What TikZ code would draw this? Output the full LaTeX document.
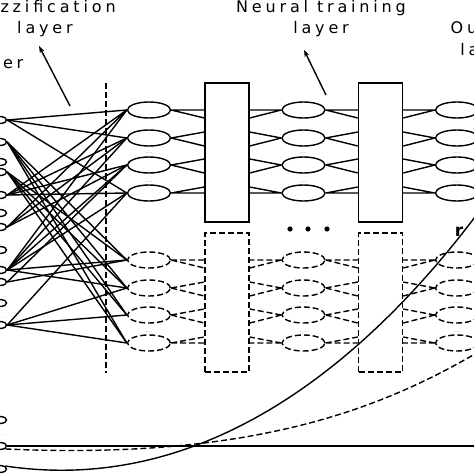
\documentclass[tikz,border=0pt]{standalone}
\usepackage{fontspec}
\usetikzlibrary{shapes.geometric,arrows.meta}
\newfontfamily\labfont[LetterSpace=24]{DejaVu Sans}
\tikzset{
  fz/.style={ellipse,draw,minimum width=43pt,minimum height=16pt,inner sep=0pt},
  inp/.style={ellipse,draw,minimum width=11pt,minimum height=7pt,inner sep=0pt},
  blk/.style={rectangle,draw,minimum width=44pt,minimum height=139pt,inner sep=0pt},
  dashline/.style={dash pattern=on 6pt off 3pt},
  lab/.style={font=\labfont\fontsize{16}{18}\selectfont,inner sep=0pt,anchor=base},
  dots/.style={font=\fontsize{8}{8}\selectfont,text=black!55,inner sep=0pt},
  pointer/.style={-{Stealth[length=7pt,width=5pt]}},
}
\begin{document}
\begin{tikzpicture}[x=1pt,y=-1pt,line width=1.4pt]
    \useasboundingbox (0,0) rectangle (474,474);
    \clip (0,0) rectangle (474,474);
    \node[lab] (fuzzt) at (45,12) {Fuzzification};
    \node[lab] (fuzzl) at (45,33) {layer};
    \node[lab] (neurt) at (321,12.5) {Neural training};
    \node[lab] (neurl) at (321,33.5) {layer};
    \node[lab] (outt) at (488,33) {Output};
    \node[lab] (outl) at (488,55) {layer};
    \node[lab,anchor=base east] (inpt) at (24,68) {Input layer};
    \node[font=\labfont\bfseries\fontsize{17}{17}\selectfont,inner sep=0pt,anchor=base] (rlab) at (459,236) {r};
    \coordinate (fa) at (70,106);
    \coordinate (fb) at (39,46);
    \coordinate (na) at (326,95);
    \coordinate (nb) at (304,50);
    \draw[pointer] (fa) -- (fb);
    \draw[pointer] (na) -- (nb);
    \draw[dashline] (106,83) -- (106,373);
    \node[blk] (bs1) at (227,152.5) {};
    \node[blk] (bs2) at (380.5,152.5) {};
    \node[blk,dashline] (bd1) at (227,302.5) {};
    \node[blk,dashline] (bd2) at (380.5,302.5) {};
    \foreach \g/\st/\dy in {s/solid/0,d/dashline/150} {
        \foreach \i/\y/\up/\dn in {1/110/0pt/8pt,2/138/6pt/8pt,3/165/6pt/8pt,4/193/6pt/0pt} {
            \node[fz,\st] (f\g\i) at (149,\y+\dy) {};
            \node[fz,\st] (n\g\i) at (303.5,\y+\dy) {};
            \node[fz,\st] (o\g\i) at (457,\y+\dy) {};
            \foreach \sa/\sb/\sc in {f/b\g1/n,n/b\g2/o} {
                \draw[\st] (\sa\g\i.east) -- ([yshift=\up]\sb.west |- \sa\g\i)
                           (\sa\g\i.east) -- ([yshift=-\dn]\sb.west |- \sa\g\i);
                \draw[\st] (\sc\g\i.west) -- ([yshift=\up]\sb.east |- \sc\g\i)
                           (\sc\g\i.west) -- ([yshift=-\dn]\sb.east |- \sc\g\i);
            }
        }
    }
    \foreach \x in {149,303,457}
        \foreach \y in {153,182,303,332}
            \node[dots] (dd\x-\y) at (\x,\y) {...};
    \foreach \x in {290,308,327}
        \fill (\x,229) circle[radius=2.6pt];
    \foreach \i/\y in {1/120,2/142,3/162,4/172,5/195,6/213,7/227,8/250,9/270,10/282,11/303,12/325,13/420,14/446,15/469}
        \node[inp] (i\i) at (1,\y) {};
    \foreach \y in {133,155,188,208,242,263,297,318,435}
        \node[dots,font=\fontsize{4}{4}\selectfont] (id\y) at (4,\y) {...};
    \foreach \a/\b in {1/fs1,1/fs2,1/fs4,5/fs1,5/fs2,5/fs3,5/fs4,7/fs1,7/fs2,7/fs3,
                       9/fs1,9/fs2,9/fs3,9/fs4,10/fs3,12/fs4,2/fd1,2/fd2,2/fd3,2/fd4,
                       4/fd1,4/fd2,4/fd3,4/fd4,9/fd1,9/fd2,10/fd1,12/fd2,12/fd3,12/fd4}
        \draw (i\a.east) -- (\b.west);
    \coordinate (hl) at (474,446);
    \coordinate (dl) at (480,351);
    \coordinate (sl) at (478,213);
    \draw (i14.east) -- (hl);
    \draw[dashline] (i14.south east) .. controls (250,460) and (380,410) .. (dl);
    \draw (i15.north east) .. controls (200,495) and (360,370) .. (sl);
\end{tikzpicture}
\end{document}
